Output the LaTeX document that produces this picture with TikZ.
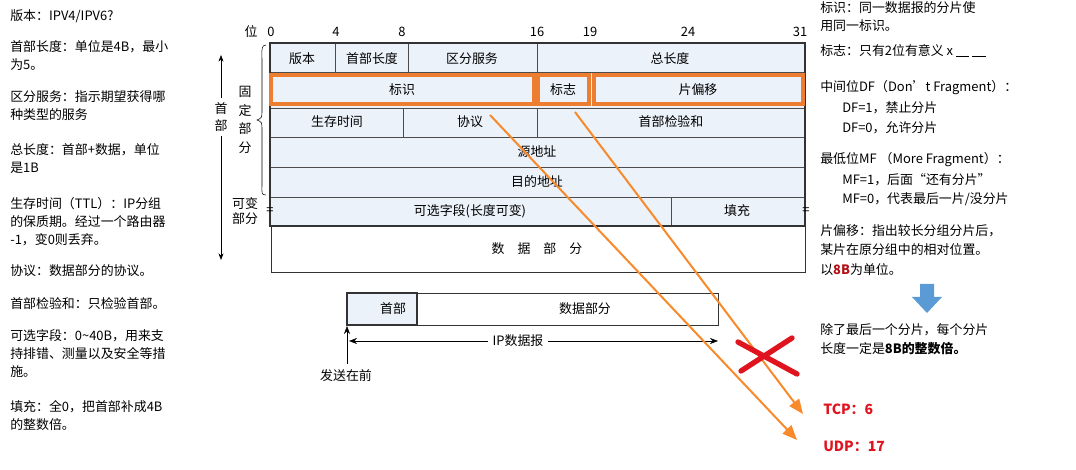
\documentclass[tikz,border=0pt]{standalone}
\usepackage{fontspec}
\setmainfont{Noto Sans CJK SC}
\usetikzlibrary{arrows.meta}
\definecolor{cellbg}{HTML}{EBF2FA}
\definecolor{orng}{HTML}{ED7D31}
\definecolor{arr}{HTML}{F88A2B}
\definecolor{tred}{HTML}{E0141E}
\definecolor{bluearr}{HTML}{5B9BD5}
\begin{document}
\begin{tikzpicture}[x=0.75pt,y=-0.75pt,font=\fontsize{9.7}{11}\selectfont,
  cell/.style={draw=black!70,fill=cellbg,line width=0.6pt},
  obox/.style={draw=orng,line width=2.8pt},
  lt/.style={anchor=west,inner sep=0pt},
  oarrow/.style={draw=arr,line width=1.5pt,-{Triangle[length=11pt,width=9pt]}}]
\useasboundingbox (0,0) rectangle (1076,470);
% header bits
\node (wei) at (251,32) {位};
\foreach \b/\x in {0/271,4/336,8/402,16/537,19/590,24/688,31/800} \node (b\b) at (\x,32) {\b};
% rows
\draw[cell] (270,43) rectangle (805,226);
\foreach \y in {72,108,137,167,197} \draw[black!70,line width=0.6pt] (270,\y) -- (805,\y);
\draw[black!70] (335,43) -- (335,72) (408,43) -- (408,72) (537,43) -- (537,72);
\draw[black!70] (403,108) -- (403,137) (537,108) -- (537,137) (671,197) -- (671,226);
\draw[draw=black!80,line width=0.8pt] (270,43) rectangle (805,226);
\node (r1a) at (302,59) {版本};
\node (r1b) at (372,59) {首部长度};
\node (r1c) at (472,59) {区分服务};
\node (r1d) at (670,59) {总长度};
\draw[obox] (271,75) rectangle (534,104);
\draw[obox] (538,75) rectangle (589,104);
\draw[obox] (594,75) rectangle (803,104);
\node (bs) at (402,90) {标识};
\node (bz) at (563,90) {标志};
\node (pp) at (698,90) {片偏移};
\node (ttl) at (337,122) {生存时间};
\node (xy) at (470,122) {协议};
\node (jy) at (671,122) {首部检验和};
\node (src) at (537,152) {源地址};
\node (dst) at (537,182) {目的地址};
\node (opt) at (470,211) {可选字段(长度可变)};
\node (pad) at (737,211) {填充};
\node at (270,211) {=};
\node at (806,211) {=};
\draw[black!80,line width=0.6pt] (271,226) rectangle (805,272);
\node (data) at (537,249) {数\quad 据\quad 部\quad 分};
% left labels
\draw (266,45) .. controls (261,45) and (262,50) .. (262,60) -- (262,110) .. controls (262,118) .. (257,120) .. controls (262,122) .. (262,130) -- (262,185) .. controls (262,193) and (261,195) .. (266,195);
\node[align=center,font=\fontsize{9.7}{14}\selectfont] (gd) at (245,120) {固\\定\\部\\分};
\node[align=center] (kb) at (245,211) {可变\\部分};
\node[align=center,font=\fontsize{9.7}{13}\selectfont] (sb) at (221,117) {首\\部};
\draw[-{Stealth[length=5pt]}] (sb.north) -- (221,55);
\draw[-{Stealth[length=5pt]}] (sb.south) -- (221,260);
% left text
\begin{scope}[every node/.style={lt}]
\node at (10,16) {版本：IPV4/IPV6?};
\node at (10,47) {首部长度：单位是4B，最小};
\node at (10,65) {为5。};
\node at (10,97) {区分服务：指示期望获得哪};
\node at (10,115) {种类型的服务};
\node at (10,150) {总长度：首部+数据，单位};
\node at (10,168) {是1B};
\node at (10,204) {生存时间（TTL）：IP分组};
\node at (10,222) {的保质期。经过一个路由器};
\node at (10,240) {-1，变0则丢弃。};
\node at (10,271) {协议：数据部分的协议。};
\node at (10,304) {首部检验和：只检验首部。};
\node at (10,336) {可选字段：0\textasciitilde40B，用来支};
\node at (10,354) {持排错、测量以及安全等措};
\node at (10,372) {施。};
\node at (10,407) {填充：全0，把首部补成4B};
\node at (10,425) {的整数倍。};
% right text
\node at (820,8) {标识：同一数据报的分片使};
\node at (820,26) {用同一标识。};
\node at (820,51) {标志：只有2位有意义 x \rule[-1pt]{10pt}{1.2pt} \rule[-1pt]{10pt}{1.2pt}};
\node at (820,88) {中间位DF（Don’t Fragment）：};
\node at (842,108) {DF=1，禁止分片};
\node at (842,128) {DF=0，允许分片};
\node at (820,160) {最低位MF （More Fragment）：};
\node at (842,180) {MF=1，后面“还有分片”};
\node at (842,199) {MF=0，代表最后一片/没分片};
\node at (820,231) {片偏移：指出较长分组分片后，};
\node at (820,250) {某片在原分组中的相对位置。};
\node at (820,270) {以\textbf{\textcolor{tred!80!black}{8B}}为单位。};
\node at (820,330) {除了最后一个分片，每个分片};
\node at (820,349) {长度一定是\textbf{8B的整数倍。}};
\node[text=tred,font=\fontsize{10.5}{12}\selectfont\bfseries] (tcp) at (823,409) {TCP：6};
\node[text=tred,font=\fontsize{10.5}{12}\selectfont\bfseries] (udp) at (823,446) {UDP：17};
\end{scope}
\fill[bluearr] (920,284) -- (934,284) -- (934,297) -- (942,297) -- (927,313) -- (912,297) -- (920,297) -- cycle;
% bottom datagram
\draw[draw=black!80,line width=0.6pt] (417,293) rectangle (718,325);
\draw[cell,draw=black!80,line width=1pt] (347,293) rectangle (417,325);
\node (hd) at (393,309) {首部};
\node (dp) at (585,309) {数据部分};
\node (ipd) at (518,341) {IP数据报};
\draw[-{Stealth[length=6pt]}] (ipd.west) -- (349,341);
\draw[-{Stealth[length=6pt]}] (ipd.east) -- (718,341);
\node (fs) at (346,376) {发送在前};
\draw[-{Stealth[length=6pt]}] (347,364) -- (347,326);
% orange arrows
\coordinate (a1s) at (490,115);
\coordinate (a1e) at (797,440);
\coordinate (a2s) at (575,112);
\coordinate (a2e) at (803,414);
\draw[oarrow] (a1s) -- (a1e);
\draw[oarrow] (a2s) -- (a2e);
% red X
\draw[tred,line width=4pt,line cap=round] (741,371) -- (792,338) (738,342) -- (797,374);
\end{tikzpicture}
\end{document}
